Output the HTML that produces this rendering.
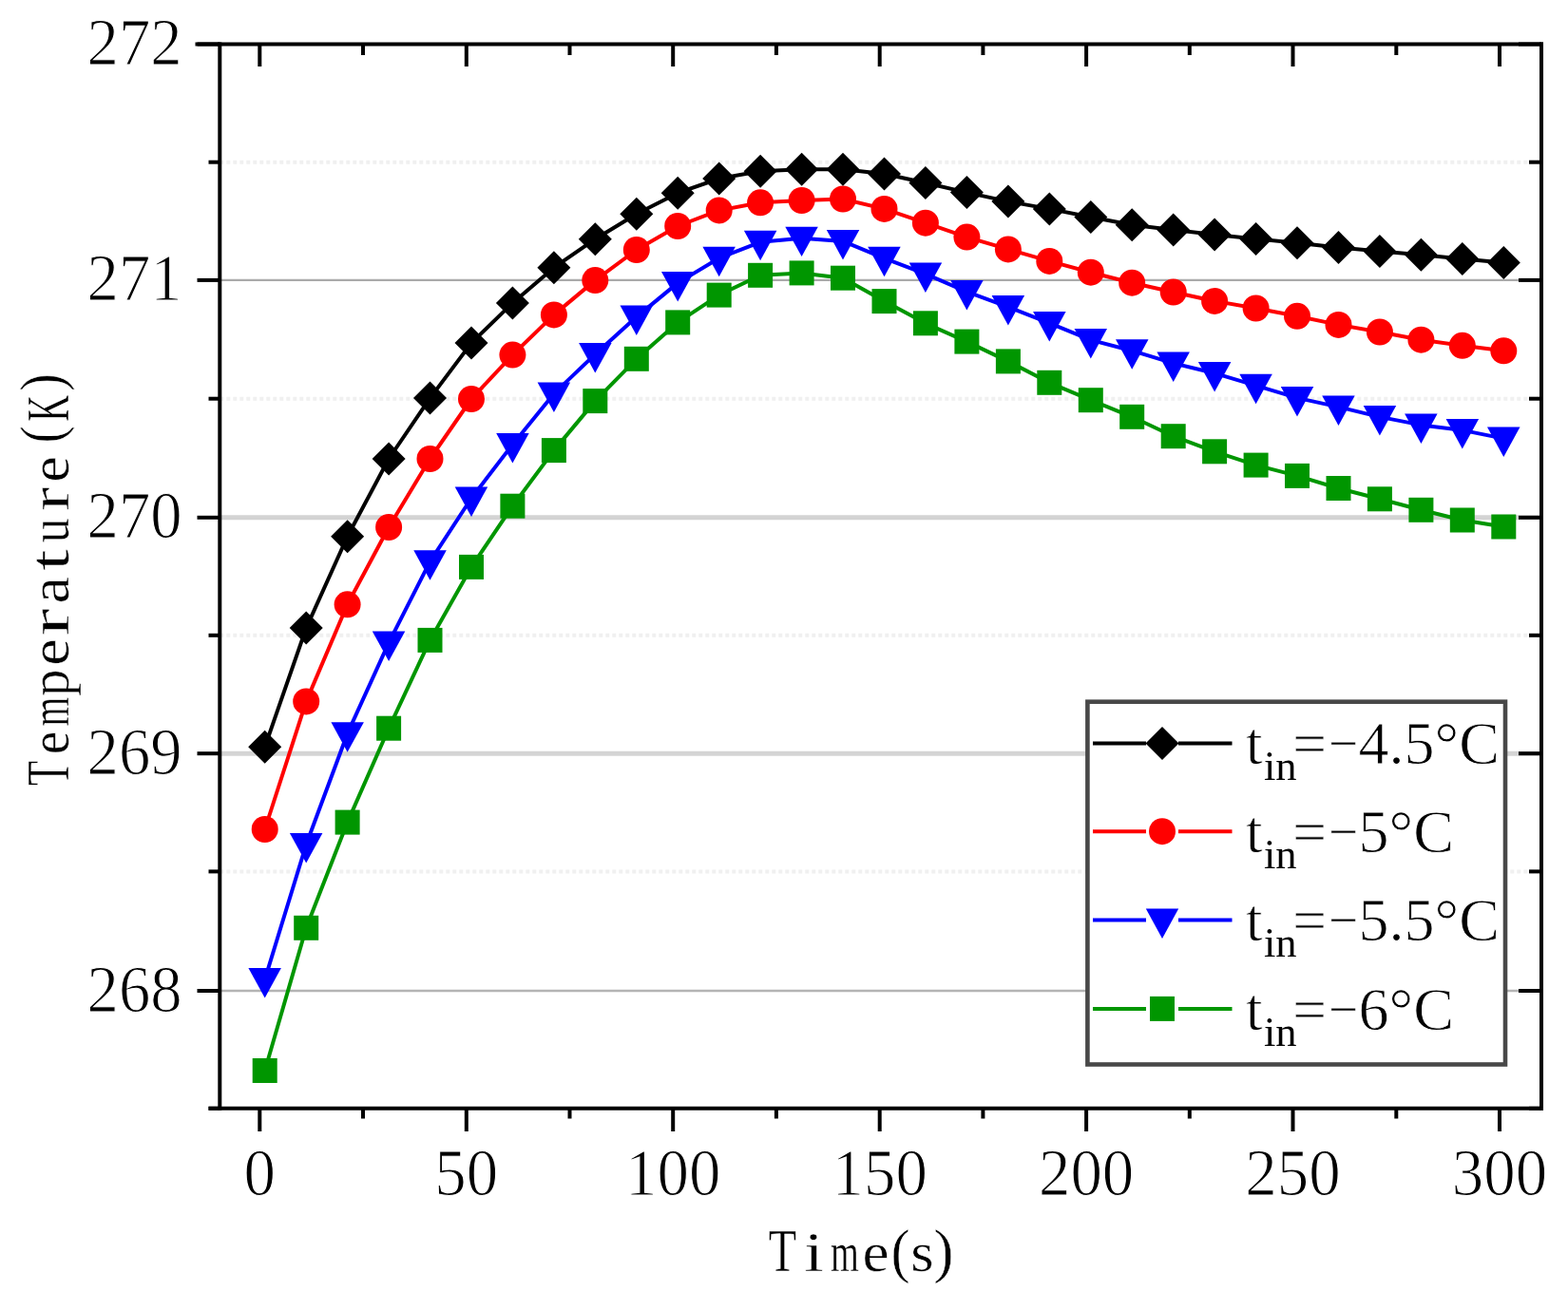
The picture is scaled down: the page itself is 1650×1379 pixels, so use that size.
<!DOCTYPE html><html><head><meta charset="utf-8"><title>Temperature vs Time</title><style>html,body{margin:0;padding:0;background:#fff;}svg{display:block;}text{font-family:"Liberation Serif","Noto Serif CJK SC",serif;fill:#000;}</style></head><body>
<svg width="1650" height="1379" viewBox="0 0 1650 1379">
<rect width="1650" height="1379" fill="#fff"/>
<g>
<line x1="231.3" y1="170.7" x2="1622" y2="170.7" stroke="#f0f0f0" stroke-width="4" stroke-dasharray="4 3"/>
<line x1="231.3" y1="419.7" x2="1622" y2="419.7" stroke="#f0f0f0" stroke-width="4" stroke-dasharray="4 3"/>
<line x1="231.3" y1="668.8" x2="1622" y2="668.8" stroke="#f0f0f0" stroke-width="4" stroke-dasharray="4 3"/>
<line x1="231.3" y1="917.4" x2="1622" y2="917.4" stroke="#f0f0f0" stroke-width="4" stroke-dasharray="4 3"/>
<line x1="231.3" y1="294.9" x2="1622" y2="294.9" stroke="#aaaaaa" stroke-width="2.2"/>
<line x1="231.3" y1="544.8" x2="1622" y2="544.8" stroke="#d3d3d3" stroke-width="5"/>
<line x1="231.3" y1="793.2" x2="1622" y2="793.2" stroke="#d4d4d4" stroke-width="5"/>
<line x1="231.3" y1="1043" x2="1622" y2="1043" stroke="#b4b4b4" stroke-width="2.4"/>
<line x1="205.5" y1="46.5" x2="1624" y2="46.5" stroke="#000" stroke-width="4" stroke-linecap="butt"/>
<line x1="219.5" y1="1166.8" x2="1624" y2="1166.8" stroke="#000" stroke-width="4" stroke-linecap="butt"/>
<line x1="231.3" y1="44.5" x2="231.3" y2="1168.8" stroke="#000" stroke-width="4" stroke-linecap="butt"/>
<line x1="1622" y1="44.5" x2="1622" y2="1168.8" stroke="#000" stroke-width="4" stroke-linecap="butt"/>
<line x1="273.3" y1="1166.8" x2="273.3" y2="1191" stroke="#000" stroke-width="4"/>
<line x1="273.3" y1="46.5" x2="273.3" y2="70" stroke="#000" stroke-width="4"/>
<line x1="490.8" y1="1166.8" x2="490.8" y2="1191" stroke="#000" stroke-width="4"/>
<line x1="490.8" y1="46.5" x2="490.8" y2="70" stroke="#000" stroke-width="4"/>
<line x1="708.2" y1="1166.8" x2="708.2" y2="1191" stroke="#000" stroke-width="4"/>
<line x1="708.2" y1="46.5" x2="708.2" y2="70" stroke="#000" stroke-width="4"/>
<line x1="925.7" y1="1166.8" x2="925.7" y2="1191" stroke="#000" stroke-width="4"/>
<line x1="925.7" y1="46.5" x2="925.7" y2="70" stroke="#000" stroke-width="4"/>
<line x1="1143.1" y1="1166.8" x2="1143.1" y2="1191" stroke="#000" stroke-width="4"/>
<line x1="1143.1" y1="46.5" x2="1143.1" y2="70" stroke="#000" stroke-width="4"/>
<line x1="1360.5" y1="1166.8" x2="1360.5" y2="1191" stroke="#000" stroke-width="4"/>
<line x1="1360.5" y1="46.5" x2="1360.5" y2="70" stroke="#000" stroke-width="4"/>
<line x1="1578" y1="1166.8" x2="1578" y2="1191" stroke="#000" stroke-width="4"/>
<line x1="1578" y1="46.5" x2="1578" y2="70" stroke="#000" stroke-width="4"/>
<line x1="382" y1="1166.8" x2="382" y2="1177.5" stroke="#000" stroke-width="4"/>
<line x1="382" y1="46.5" x2="382" y2="58" stroke="#000" stroke-width="4"/>
<line x1="599.5" y1="1166.8" x2="599.5" y2="1177.5" stroke="#000" stroke-width="4"/>
<line x1="599.5" y1="46.5" x2="599.5" y2="58" stroke="#000" stroke-width="4"/>
<line x1="816.9" y1="1166.8" x2="816.9" y2="1177.5" stroke="#000" stroke-width="4"/>
<line x1="816.9" y1="46.5" x2="816.9" y2="58" stroke="#000" stroke-width="4"/>
<line x1="1034.4" y1="1166.8" x2="1034.4" y2="1177.5" stroke="#000" stroke-width="4"/>
<line x1="1034.4" y1="46.5" x2="1034.4" y2="58" stroke="#000" stroke-width="4"/>
<line x1="1251.8" y1="1166.8" x2="1251.8" y2="1177.5" stroke="#000" stroke-width="4"/>
<line x1="1251.8" y1="46.5" x2="1251.8" y2="58" stroke="#000" stroke-width="4"/>
<line x1="1469.3" y1="1166.8" x2="1469.3" y2="1177.5" stroke="#000" stroke-width="4"/>
<line x1="1469.3" y1="46.5" x2="1469.3" y2="58" stroke="#000" stroke-width="4"/>
<line x1="207.5" y1="46.5" x2="231.3" y2="46.5" stroke="#000" stroke-width="4"/>
<line x1="1622" y1="46.5" x2="1598" y2="46.5" stroke="#000" stroke-width="4"/>
<line x1="207.5" y1="294.9" x2="231.3" y2="294.9" stroke="#000" stroke-width="4"/>
<line x1="1622" y1="294.9" x2="1598" y2="294.9" stroke="#000" stroke-width="4"/>
<line x1="207.5" y1="544.8" x2="231.3" y2="544.8" stroke="#000" stroke-width="4"/>
<line x1="1622" y1="544.8" x2="1598" y2="544.8" stroke="#000" stroke-width="4"/>
<line x1="207.5" y1="793.2" x2="231.3" y2="793.2" stroke="#000" stroke-width="4"/>
<line x1="1622" y1="793.2" x2="1598" y2="793.2" stroke="#000" stroke-width="4"/>
<line x1="207.5" y1="1043.0" x2="231.3" y2="1043.0" stroke="#000" stroke-width="4"/>
<line x1="1622" y1="1043.0" x2="1598" y2="1043.0" stroke="#000" stroke-width="4"/>
<line x1="219.5" y1="170.7" x2="231.3" y2="170.7" stroke="#000" stroke-width="4"/>
<line x1="1622" y1="170.7" x2="1609" y2="170.7" stroke="#000" stroke-width="4"/>
<line x1="219.5" y1="419.7" x2="231.3" y2="419.7" stroke="#000" stroke-width="4"/>
<line x1="1622" y1="419.7" x2="1609" y2="419.7" stroke="#000" stroke-width="4"/>
<line x1="219.5" y1="668.8" x2="231.3" y2="668.8" stroke="#000" stroke-width="4"/>
<line x1="1622" y1="668.8" x2="1609" y2="668.8" stroke="#000" stroke-width="4"/>
<line x1="219.5" y1="917.4" x2="231.3" y2="917.4" stroke="#000" stroke-width="4"/>
<line x1="1622" y1="917.4" x2="1609" y2="917.4" stroke="#000" stroke-width="4"/>
<line x1="219.5" y1="1166.8" x2="231.3" y2="1166.8" stroke="#000" stroke-width="4"/>
<line x1="1622" y1="1166.8" x2="1609" y2="1166.8" stroke="#000" stroke-width="4"/>
<text x="0" y="0" font-size="69" text-anchor="middle" transform="translate(273.3 1257.8) scale(0.97 1)" stroke="#fff" stroke-width="1.1">0</text>
<text x="0" y="0" font-size="69" text-anchor="middle" transform="translate(490.8 1257.8) scale(0.97 1)" stroke="#fff" stroke-width="1.1">50</text>
<text x="0" y="0" font-size="69" text-anchor="middle" transform="translate(708.2 1257.8) scale(0.97 1)" stroke="#fff" stroke-width="1.1">100</text>
<text x="0" y="0" font-size="69" text-anchor="middle" transform="translate(925.7 1257.8) scale(0.97 1)" stroke="#fff" stroke-width="1.1">150</text>
<text x="0" y="0" font-size="69" text-anchor="middle" transform="translate(1143.1 1257.8) scale(0.97 1)" stroke="#fff" stroke-width="1.1">200</text>
<text x="0" y="0" font-size="69" text-anchor="middle" transform="translate(1360.5 1257.8) scale(0.97 1)" stroke="#fff" stroke-width="1.1">250</text>
<text x="0" y="0" font-size="69" text-anchor="middle" transform="translate(1578 1257.8) scale(0.97 1)" stroke="#fff" stroke-width="1.1">300</text>
<text x="0" y="0" font-size="69" text-anchor="end" transform="translate(191.5 68) scale(0.965 1)" stroke="#fff" stroke-width="1.1">272</text>
<text x="0" y="0" font-size="69" text-anchor="end" transform="translate(191.5 316.4) scale(0.965 1)" stroke="#fff" stroke-width="1.1">271</text>
<text x="0" y="0" font-size="69" text-anchor="end" transform="translate(191.5 566.3) scale(0.965 1)" stroke="#fff" stroke-width="1.1">270</text>
<text x="0" y="0" font-size="69" text-anchor="end" transform="translate(191.5 814.7) scale(0.965 1)" stroke="#fff" stroke-width="1.1">269</text>
<text x="0" y="0" font-size="69" text-anchor="end" transform="translate(191.5 1064.5) scale(0.965 1)" stroke="#fff" stroke-width="1.1">268</text>
<polyline points="278.7,1127 322.2,976.8 365.6,865.6 409.1,766.7 452.5,673.9 496,596.9 539.4,532.7 582.9,474.1 626.3,422.1 669.8,377.8 713.2,339.4 756.7,310.6 800.1,289.8 843.6,287.4 887,292.7 930.5,317.1 973.9,340.3 1017.4,359.6 1060.9,380.4 1104.3,402.8 1147.8,421.2 1191.2,438.8 1234.7,459.2 1278.1,475.3 1321.6,489.6 1365,500.9 1408.5,514 1451.9,525.3 1495.4,536.8 1538.8,547.5 1582.3,554.5" fill="none" stroke="#009600" stroke-width="4" stroke-linejoin="round"/>
<rect x="265.7" y="1114" width="26" height="26" fill="#009600"/>
<rect x="309.2" y="963.8" width="26" height="26" fill="#009600"/>
<rect x="352.6" y="852.6" width="26" height="26" fill="#009600"/>
<rect x="396.1" y="753.7" width="26" height="26" fill="#009600"/>
<rect x="439.5" y="660.9" width="26" height="26" fill="#009600"/>
<rect x="483" y="583.9" width="26" height="26" fill="#009600"/>
<rect x="526.4" y="519.7" width="26" height="26" fill="#009600"/>
<rect x="569.9" y="461.1" width="26" height="26" fill="#009600"/>
<rect x="613.3" y="409.1" width="26" height="26" fill="#009600"/>
<rect x="656.8" y="364.8" width="26" height="26" fill="#009600"/>
<rect x="700.2" y="326.4" width="26" height="26" fill="#009600"/>
<rect x="743.7" y="297.6" width="26" height="26" fill="#009600"/>
<rect x="787.1" y="276.8" width="26" height="26" fill="#009600"/>
<rect x="830.6" y="274.4" width="26" height="26" fill="#009600"/>
<rect x="874" y="279.7" width="26" height="26" fill="#009600"/>
<rect x="917.5" y="304.1" width="26" height="26" fill="#009600"/>
<rect x="960.9" y="327.3" width="26" height="26" fill="#009600"/>
<rect x="1004.4" y="346.6" width="26" height="26" fill="#009600"/>
<rect x="1047.9" y="367.4" width="26" height="26" fill="#009600"/>
<rect x="1091.3" y="389.8" width="26" height="26" fill="#009600"/>
<rect x="1134.8" y="408.2" width="26" height="26" fill="#009600"/>
<rect x="1178.2" y="425.8" width="26" height="26" fill="#009600"/>
<rect x="1221.7" y="446.2" width="26" height="26" fill="#009600"/>
<rect x="1265.1" y="462.3" width="26" height="26" fill="#009600"/>
<rect x="1308.6" y="476.6" width="26" height="26" fill="#009600"/>
<rect x="1352" y="487.9" width="26" height="26" fill="#009600"/>
<rect x="1395.5" y="501" width="26" height="26" fill="#009600"/>
<rect x="1438.9" y="512.3" width="26" height="26" fill="#009600"/>
<rect x="1482.4" y="523.8" width="26" height="26" fill="#009600"/>
<rect x="1525.8" y="534.5" width="26" height="26" fill="#009600"/>
<rect x="1569.3" y="541.5" width="26" height="26" fill="#009600"/>
<polyline points="278.7,1031 322.2,889 365.6,772.2 409.1,676.6 452.5,591.2 496,524.5 539.4,467.9 582.9,414.4 626.3,372.9 669.8,333.6 713.2,297.9 756.7,271.8 800.1,254.8 843.6,250.7 887,253.9 930.5,271.8 973.9,288.4 1017.4,307.1 1060.9,323.1 1104.3,340.1 1147.8,357.9 1191.2,369.2 1234.7,382.4 1278.1,392.9 1321.6,405.8 1365,418.9 1408.5,428.4 1451.9,438.9 1495.4,447.4 1538.8,452.9 1582.3,461.6" fill="none" stroke="#0000ff" stroke-width="4" stroke-linejoin="round"/>
<path d="M261.4 1019L295.9 1019L278.7 1050.5Z" fill="#0000ff"/>
<path d="M304.9 877L339.4 877L322.2 908.5Z" fill="#0000ff"/>
<path d="M348.4 760.2L382.9 760.2L365.6 791.8Z" fill="#0000ff"/>
<path d="M391.8 664.6L426.3 664.6L409.1 696.1Z" fill="#0000ff"/>
<path d="M435.3 579.2L469.8 579.2L452.5 610.8Z" fill="#0000ff"/>
<path d="M478.7 512.5L513.2 512.5L496 544Z" fill="#0000ff"/>
<path d="M522.2 455.9L556.7 455.9L539.4 487.4Z" fill="#0000ff"/>
<path d="M565.6 402.4L600.1 402.4L582.9 433.9Z" fill="#0000ff"/>
<path d="M609.1 360.9L643.6 360.9L626.3 392.4Z" fill="#0000ff"/>
<path d="M652.5 321.6L687 321.6L669.8 353.1Z" fill="#0000ff"/>
<path d="M696 285.9L730.5 285.9L713.2 317.4Z" fill="#0000ff"/>
<path d="M739.4 259.8L773.9 259.8L756.7 291.2Z" fill="#0000ff"/>
<path d="M782.9 242.8L817.4 242.8L800.1 274.2Z" fill="#0000ff"/>
<path d="M826.3 238.7L860.8 238.7L843.6 270.1Z" fill="#0000ff"/>
<path d="M869.8 241.9L904.3 241.9L887 273.4Z" fill="#0000ff"/>
<path d="M913.2 259.8L947.7 259.8L930.5 291.2Z" fill="#0000ff"/>
<path d="M956.7 276.4L991.2 276.4L973.9 307.9Z" fill="#0000ff"/>
<path d="M1000.2 295.1L1034.7 295.1L1017.4 326.6Z" fill="#0000ff"/>
<path d="M1043.6 311.1L1078.1 311.1L1060.9 342.6Z" fill="#0000ff"/>
<path d="M1087.1 328.1L1121.6 328.1L1104.3 359.6Z" fill="#0000ff"/>
<path d="M1130.5 345.9L1165 345.9L1147.8 377.4Z" fill="#0000ff"/>
<path d="M1174 357.2L1208.5 357.2L1191.2 388.8Z" fill="#0000ff"/>
<path d="M1217.4 370.4L1251.9 370.4L1234.7 401.9Z" fill="#0000ff"/>
<path d="M1260.9 380.9L1295.4 380.9L1278.1 412.4Z" fill="#0000ff"/>
<path d="M1304.3 393.8L1338.8 393.8L1321.6 425.2Z" fill="#0000ff"/>
<path d="M1347.8 406.9L1382.3 406.9L1365 438.4Z" fill="#0000ff"/>
<path d="M1391.2 416.4L1425.7 416.4L1408.5 447.9Z" fill="#0000ff"/>
<path d="M1434.7 426.9L1469.2 426.9L1451.9 458.4Z" fill="#0000ff"/>
<path d="M1478.1 435.4L1512.6 435.4L1495.4 466.9Z" fill="#0000ff"/>
<path d="M1521.6 440.9L1556.1 440.9L1538.8 472.4Z" fill="#0000ff"/>
<path d="M1565 449.6L1599.5 449.6L1582.3 481.1Z" fill="#0000ff"/>
<polyline points="278.7,873 322.2,738.4 365.6,636.3 409.1,555 452.5,483 496,420 539.4,373.6 582.9,331.4 626.3,295.1 669.8,263 713.2,238 756.7,221.4 800.1,213.3 843.6,211 887,209.5 930.5,219.9 973.9,234.7 1017.4,249.6 1060.9,262.4 1104.3,274.9 1147.8,286.7 1191.2,297.7 1234.7,307.5 1278.1,316.9 1321.6,324.5 1365,332.8 1408.5,341.9 1451.9,349.5 1495.4,357.7 1538.8,363.8 1582.3,369.3" fill="none" stroke="#ff0000" stroke-width="4" stroke-linejoin="round"/>
<circle cx="278.7" cy="873" r="14" fill="#ff0000"/>
<circle cx="322.2" cy="738.4" r="14" fill="#ff0000"/>
<circle cx="365.6" cy="636.3" r="14" fill="#ff0000"/>
<circle cx="409.1" cy="555" r="14" fill="#ff0000"/>
<circle cx="452.5" cy="483" r="14" fill="#ff0000"/>
<circle cx="496" cy="420" r="14" fill="#ff0000"/>
<circle cx="539.4" cy="373.6" r="14" fill="#ff0000"/>
<circle cx="582.9" cy="331.4" r="14" fill="#ff0000"/>
<circle cx="626.3" cy="295.1" r="14" fill="#ff0000"/>
<circle cx="669.8" cy="263" r="14" fill="#ff0000"/>
<circle cx="713.2" cy="238" r="14" fill="#ff0000"/>
<circle cx="756.7" cy="221.4" r="14" fill="#ff0000"/>
<circle cx="800.1" cy="213.3" r="14" fill="#ff0000"/>
<circle cx="843.6" cy="211" r="14" fill="#ff0000"/>
<circle cx="887" cy="209.5" r="14" fill="#ff0000"/>
<circle cx="930.5" cy="219.9" r="14" fill="#ff0000"/>
<circle cx="973.9" cy="234.7" r="14" fill="#ff0000"/>
<circle cx="1017.4" cy="249.6" r="14" fill="#ff0000"/>
<circle cx="1060.9" cy="262.4" r="14" fill="#ff0000"/>
<circle cx="1104.3" cy="274.9" r="14" fill="#ff0000"/>
<circle cx="1147.8" cy="286.7" r="14" fill="#ff0000"/>
<circle cx="1191.2" cy="297.7" r="14" fill="#ff0000"/>
<circle cx="1234.7" cy="307.5" r="14" fill="#ff0000"/>
<circle cx="1278.1" cy="316.9" r="14" fill="#ff0000"/>
<circle cx="1321.6" cy="324.5" r="14" fill="#ff0000"/>
<circle cx="1365" cy="332.8" r="14" fill="#ff0000"/>
<circle cx="1408.5" cy="341.9" r="14" fill="#ff0000"/>
<circle cx="1451.9" cy="349.5" r="14" fill="#ff0000"/>
<circle cx="1495.4" cy="357.7" r="14" fill="#ff0000"/>
<circle cx="1538.8" cy="363.8" r="14" fill="#ff0000"/>
<circle cx="1582.3" cy="369.3" r="14" fill="#ff0000"/>
<polyline points="278.7,786.3 322.2,661.1 365.6,564.8 409.1,483 452.5,419.1 496,361.1 539.4,318.9 582.9,281.7 626.3,251.7 669.8,225.2 713.2,203.2 756.7,188 800.1,180.3 843.6,178.2 887,178.2 930.5,183 973.9,192.5 1017.4,202.6 1060.9,212.1 1104.3,219.9 1147.8,228.5 1191.2,236.8 1234.7,242 1278.1,246.9 1321.6,251.4 1365,255.7 1408.5,260.6 1451.9,264.5 1495.4,268.2 1538.8,272.4 1582.3,276.4" fill="none" stroke="#000000" stroke-width="4" stroke-linejoin="round"/>
<path d="M278.7 768.8L296.2 786.3L278.7 803.8L261.2 786.3Z" fill="#000000"/>
<path d="M322.2 643.6L339.7 661.1L322.2 678.6L304.7 661.1Z" fill="#000000"/>
<path d="M365.6 547.3L383.1 564.8L365.6 582.3L348.1 564.8Z" fill="#000000"/>
<path d="M409.1 465.5L426.6 483L409.1 500.5L391.6 483Z" fill="#000000"/>
<path d="M452.5 401.6L470 419.1L452.5 436.6L435 419.1Z" fill="#000000"/>
<path d="M496 343.6L513.5 361.1L496 378.6L478.5 361.1Z" fill="#000000"/>
<path d="M539.4 301.4L556.9 318.9L539.4 336.4L521.9 318.9Z" fill="#000000"/>
<path d="M582.9 264.2L600.4 281.7L582.9 299.2L565.4 281.7Z" fill="#000000"/>
<path d="M626.3 234.2L643.8 251.7L626.3 269.2L608.8 251.7Z" fill="#000000"/>
<path d="M669.8 207.7L687.3 225.2L669.8 242.7L652.3 225.2Z" fill="#000000"/>
<path d="M713.2 185.7L730.7 203.2L713.2 220.7L695.7 203.2Z" fill="#000000"/>
<path d="M756.7 170.5L774.2 188L756.7 205.5L739.2 188Z" fill="#000000"/>
<path d="M800.1 162.8L817.6 180.3L800.1 197.8L782.6 180.3Z" fill="#000000"/>
<path d="M843.6 160.7L861.1 178.2L843.6 195.7L826.1 178.2Z" fill="#000000"/>
<path d="M887 160.7L904.5 178.2L887 195.7L869.5 178.2Z" fill="#000000"/>
<path d="M930.5 165.5L948 183L930.5 200.5L913 183Z" fill="#000000"/>
<path d="M973.9 175L991.4 192.5L973.9 210L956.4 192.5Z" fill="#000000"/>
<path d="M1017.4 185.1L1034.9 202.6L1017.4 220.1L999.9 202.6Z" fill="#000000"/>
<path d="M1060.9 194.6L1078.4 212.1L1060.9 229.6L1043.4 212.1Z" fill="#000000"/>
<path d="M1104.3 202.4L1121.8 219.9L1104.3 237.4L1086.8 219.9Z" fill="#000000"/>
<path d="M1147.8 211L1165.3 228.5L1147.8 246L1130.3 228.5Z" fill="#000000"/>
<path d="M1191.2 219.3L1208.7 236.8L1191.2 254.3L1173.7 236.8Z" fill="#000000"/>
<path d="M1234.7 224.5L1252.2 242L1234.7 259.5L1217.2 242Z" fill="#000000"/>
<path d="M1278.1 229.4L1295.6 246.9L1278.1 264.4L1260.6 246.9Z" fill="#000000"/>
<path d="M1321.6 233.9L1339.1 251.4L1321.6 268.9L1304.1 251.4Z" fill="#000000"/>
<path d="M1365 238.2L1382.5 255.7L1365 273.2L1347.5 255.7Z" fill="#000000"/>
<path d="M1408.5 243.1L1426 260.6L1408.5 278.1L1391 260.6Z" fill="#000000"/>
<path d="M1451.9 247L1469.4 264.5L1451.9 282L1434.4 264.5Z" fill="#000000"/>
<path d="M1495.4 250.7L1512.9 268.2L1495.4 285.7L1477.9 268.2Z" fill="#000000"/>
<path d="M1538.8 254.9L1556.3 272.4L1538.8 289.9L1521.3 272.4Z" fill="#000000"/>
<path d="M1582.3 258.9L1599.8 276.4L1582.3 293.9L1564.8 276.4Z" fill="#000000"/>
<rect x="1144.4" y="738.7" width="439.6" height="381.8" fill="#fff" stroke="#484848" stroke-width="4.6"/>
<line x1="1150" y1="782.4" x2="1206" y2="782.4" stroke="#000000" stroke-width="4"/>
<line x1="1240" y1="782.4" x2="1296.5" y2="782.4" stroke="#000000" stroke-width="4"/>
<path d="M1223 764.9L1240.5 782.4L1223 799.9L1205.5 782.4Z" fill="#000000"/>
<text y="804.2" font-size="64" stroke="#fff" stroke-width="0.8"><tspan x="1310.8">t</tspan><tspan x="1329.9" y="821.2" font-size="44.5" stroke="none">in</tspan><tspan x="1360.1" y="804.2">=</tspan><tspan x="1429.6">4.5°C</tspan></text>
<text x="0" y="0" font-size="64" text-anchor="middle" transform="translate(1413.7 804.2) scale(0.87 1)" stroke="#fff" stroke-width="0.8">−</text>
<line x1="1150" y1="875.2" x2="1206" y2="875.2" stroke="#ff0000" stroke-width="4"/>
<line x1="1240" y1="875.2" x2="1296.5" y2="875.2" stroke="#ff0000" stroke-width="4"/>
<circle cx="1223" cy="875.2" r="14" fill="#ff0000"/>
<text y="897" font-size="64" stroke="#fff" stroke-width="0.8"><tspan x="1310.8">t</tspan><tspan x="1329.9" y="914" font-size="44.5" stroke="none">in</tspan><tspan x="1360.1" y="897">=</tspan><tspan x="1429.6">5°C</tspan></text>
<text x="0" y="0" font-size="64" text-anchor="middle" transform="translate(1413.7 897) scale(0.87 1)" stroke="#fff" stroke-width="0.8">−</text>
<line x1="1150" y1="968.5" x2="1206" y2="968.5" stroke="#0000ff" stroke-width="4"/>
<line x1="1240" y1="968.5" x2="1296.5" y2="968.5" stroke="#0000ff" stroke-width="4"/>
<path d="M1205.8 956.5L1240.2 956.5L1223 988Z" fill="#0000ff"/>
<text y="990.3" font-size="64" stroke="#fff" stroke-width="0.8"><tspan x="1310.8">t</tspan><tspan x="1329.9" y="1007.3" font-size="44.5" stroke="none">in</tspan><tspan x="1360.1" y="990.3">=</tspan><tspan x="1429.6">5.5°C</tspan></text>
<text x="0" y="0" font-size="64" text-anchor="middle" transform="translate(1413.7 990.3) scale(0.87 1)" stroke="#fff" stroke-width="0.8">−</text>
<line x1="1150" y1="1061.9" x2="1206" y2="1061.9" stroke="#009600" stroke-width="4"/>
<line x1="1240" y1="1061.9" x2="1296.5" y2="1061.9" stroke="#009600" stroke-width="4"/>
<rect x="1210" y="1048.9" width="26" height="26" fill="#009600"/>
<text y="1083.7" font-size="64" stroke="#fff" stroke-width="0.8"><tspan x="1310.8">t</tspan><tspan x="1329.9" y="1100.7" font-size="44.5" stroke="none">in</tspan><tspan x="1360.1" y="1083.7">=</tspan><tspan x="1429.6">6°C</tspan></text>
<text x="0" y="0" font-size="64" text-anchor="middle" transform="translate(1413.7 1083.7) scale(0.87 1)" stroke="#fff" stroke-width="0.8">−</text>
<text x="0" y="0" font-size="64" text-anchor="middle" stroke="#fff" stroke-width="0.5" paint-order="normal" transform="translate(823.5 1338) scale(0.75 1.0)">T</text>
<text x="0" y="0" font-size="64" text-anchor="middle" stroke="#fff" stroke-width="0.5" paint-order="normal" transform="translate(856.5 1338) scale(1.15 0.94)">i</text>
<text x="0" y="0" font-size="64" text-anchor="middle" stroke="#fff" stroke-width="0.5" paint-order="normal" transform="translate(889 1338) scale(0.6 0.94)">m</text>
<text x="0" y="0" font-size="64" text-anchor="middle" stroke="#fff" stroke-width="0.5" paint-order="normal" transform="translate(921.5 1338) scale(0.99 0.94)">e</text>
<text x="0" y="0" font-size="64" text-anchor="middle" stroke="#fff" stroke-width="0.5" paint-order="normal" transform="translate(947.5 1338) scale(0.95 1.0)">(</text>
<text x="0" y="0" font-size="64" text-anchor="middle" stroke="#fff" stroke-width="0.5" paint-order="normal" transform="translate(970.5 1338) scale(0.98 0.94)">s</text>
<text x="0" y="0" font-size="64" text-anchor="middle" stroke="#fff" stroke-width="0.5" paint-order="normal" transform="translate(993 1338) scale(1.0 1.0)">)</text>
<g transform="translate(71.5 0) rotate(-90)">
<text x="0" y="0" font-size="64" text-anchor="middle" stroke="#fff" stroke-width="0.5" paint-order="normal" transform="translate(-814 0) scale(0.67 1.0)">T</text>
<text x="0" y="0" font-size="64" text-anchor="middle" stroke="#fff" stroke-width="0.5" paint-order="normal" transform="translate(-782 0) scale(0.85 0.94)">e</text>
<text x="0" y="0" font-size="64" text-anchor="middle" stroke="#fff" stroke-width="0.5" paint-order="normal" transform="translate(-749 0) scale(0.61 0.94)">m</text>
<text x="0" y="0" font-size="64" text-anchor="middle" stroke="#fff" stroke-width="0.5" paint-order="normal" transform="translate(-718.7 0) scale(0.89 0.94)">p</text>
<text x="0" y="0" font-size="64" text-anchor="middle" stroke="#fff" stroke-width="0.5" paint-order="normal" transform="translate(-686.5 0) scale(1.0 0.94)">e</text>
<text x="0" y="0" font-size="64" text-anchor="middle" stroke="#fff" stroke-width="0.5" paint-order="normal" transform="translate(-654.8 0) scale(1.35 0.94)">r</text>
<text x="0" y="0" font-size="64" text-anchor="middle" stroke="#fff" stroke-width="0.5" paint-order="normal" transform="translate(-621.3 0) scale(1.0 0.94)">a</text>
<text x="0" y="0" font-size="64" text-anchor="middle" stroke="#fff" stroke-width="0.5" paint-order="normal" transform="translate(-589.6 0) scale(1.26 0.94)">t</text>
<text x="0" y="0" font-size="64" text-anchor="middle" stroke="#fff" stroke-width="0.5" paint-order="normal" transform="translate(-558.3 0) scale(0.82 0.94)">u</text>
<text x="0" y="0" font-size="64" text-anchor="middle" stroke="#fff" stroke-width="0.5" paint-order="normal" transform="translate(-525.2 0) scale(1.17 0.94)">r</text>
<text x="0" y="0" font-size="64" text-anchor="middle" stroke="#fff" stroke-width="0.5" paint-order="normal" transform="translate(-493.9 0) scale(0.97 0.94)">e</text>
<text x="0" y="0" font-size="64" text-anchor="middle" stroke="#fff" stroke-width="0.5" paint-order="normal" transform="translate(-457.4 -7) scale(0.86 1.0)">(</text>
<text x="0" y="0" font-size="64" text-anchor="middle" stroke="#fff" stroke-width="0.5" paint-order="normal" transform="translate(-429.6 0) scale(0.6 1.0)">K</text>
<text x="0" y="0" font-size="64" text-anchor="middle" stroke="#fff" stroke-width="0.5" paint-order="normal" transform="translate(-402.6 -7) scale(0.86 1.0)">)</text>
</g>
</g>
</svg></body></html>
